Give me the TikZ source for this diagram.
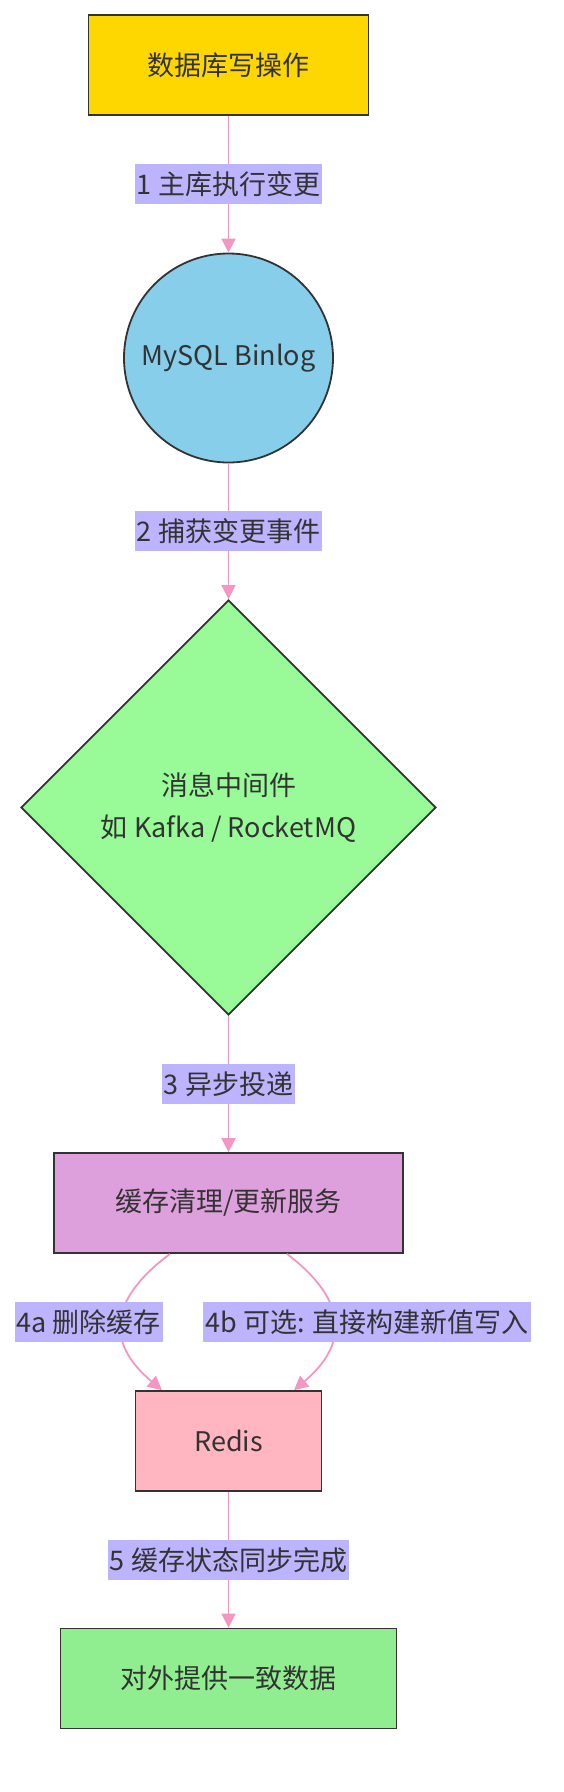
\documentclass[tikz,border=0pt]{standalone}
\usepackage{fontspec}
\setmainfont{Noto Sans CJK SC}
\usepackage{tikz}
\usetikzlibrary{shapes.geometric, arrows.meta}
\usepackage{xcolor}
\definecolor{dbgold}{RGB}{255, 215, 0}
\definecolor{binlogblue}{RGB}{135, 206, 235}
\definecolor{mqgreen}{RGB}{152, 251, 152}
\definecolor{svcplum}{RGB}{221, 160, 221}
\definecolor{redispink}{RGB}{255, 182, 193}
\definecolor{outgreen}{RGB}{144, 238, 144}
\definecolor{edgepink}{RGB}{244, 150, 194}
\definecolor{lblbg}{RGB}{188, 180, 255}
\definecolor{ink}{RGB}{51, 51, 51}

\begin{document}
\begin{tikzpicture}[x=1pt, y=1pt, font=\fontsize{27}{42}\selectfont, text=ink,
  box/.style={draw=ink, line width=1.8pt, minimum height=100pt, inner sep=0pt},
  elabel/.style={fill=lblbg, text=ink, inner xsep=2pt, inner ysep=0pt, minimum height=40pt},
  flow/.style={edgepink, line width=1.8pt, -{Triangle[width=14pt, length=14pt]}}]
  \useasboundingbox (0,0) rectangle (564,-1792);

  % Stages, top to bottom
  \node[box, fill=dbgold, minimum width=280pt] (db) at (228.5,-65) {数据库写操作};
  \node[circle, draw=ink, line width=1.8pt, fill=binlogblue, minimum size=209pt,
    inner sep=0pt] (binlog) at (228.5,-358) {MySQL Binlog};
  \node[diamond, draw=ink, line width=1.8pt, fill=mqgreen, minimum width=415pt,
    minimum height=415pt, inner sep=0pt, align=center] (mq) at (228.5,-807.5)
    {消息中间件\\如 Kafka / RocketMQ};
  \node[box, fill=svcplum, minimum width=349pt] (svc) at (228.5,-1203) {缓存清理/更新服务};
  \node[box, fill=redispink, minimum width=186pt] (redis) at (228.5,-1441) {Redis};
  \node[box, fill=outgreen, minimum width=336pt] (out) at (228.5,-1678.5) {对外提供一致数据};

  % Straight steps
  \foreach \a/\b/\t in {db/binlog/1 主库执行变更, binlog/mq/2 捕获变更事件,
                        mq/svc/3 异步投递, redis/out/5 缓存状态同步完成}
    \draw[flow] (\a) -- node[elabel] {\t} (\b);

  % Two ways into Redis
  \draw[flow] ([xshift=-58.5pt]svc.south) .. controls +(-63,-47) and +(-55,46)
    .. node[elabel, midway, xshift=-33pt] {4a 删除缓存} ([xshift=-66.5pt]redis.north);
  \draw[flow] ([xshift=58.5pt]svc.south) .. controls +(61.5,-47) and +(54.5,46)
    .. node[elabel, midway, xshift=33pt] {4b 可选: 直接构建新值写入} ([xshift=65.5pt]redis.north);
\end{tikzpicture}
\end{document}
